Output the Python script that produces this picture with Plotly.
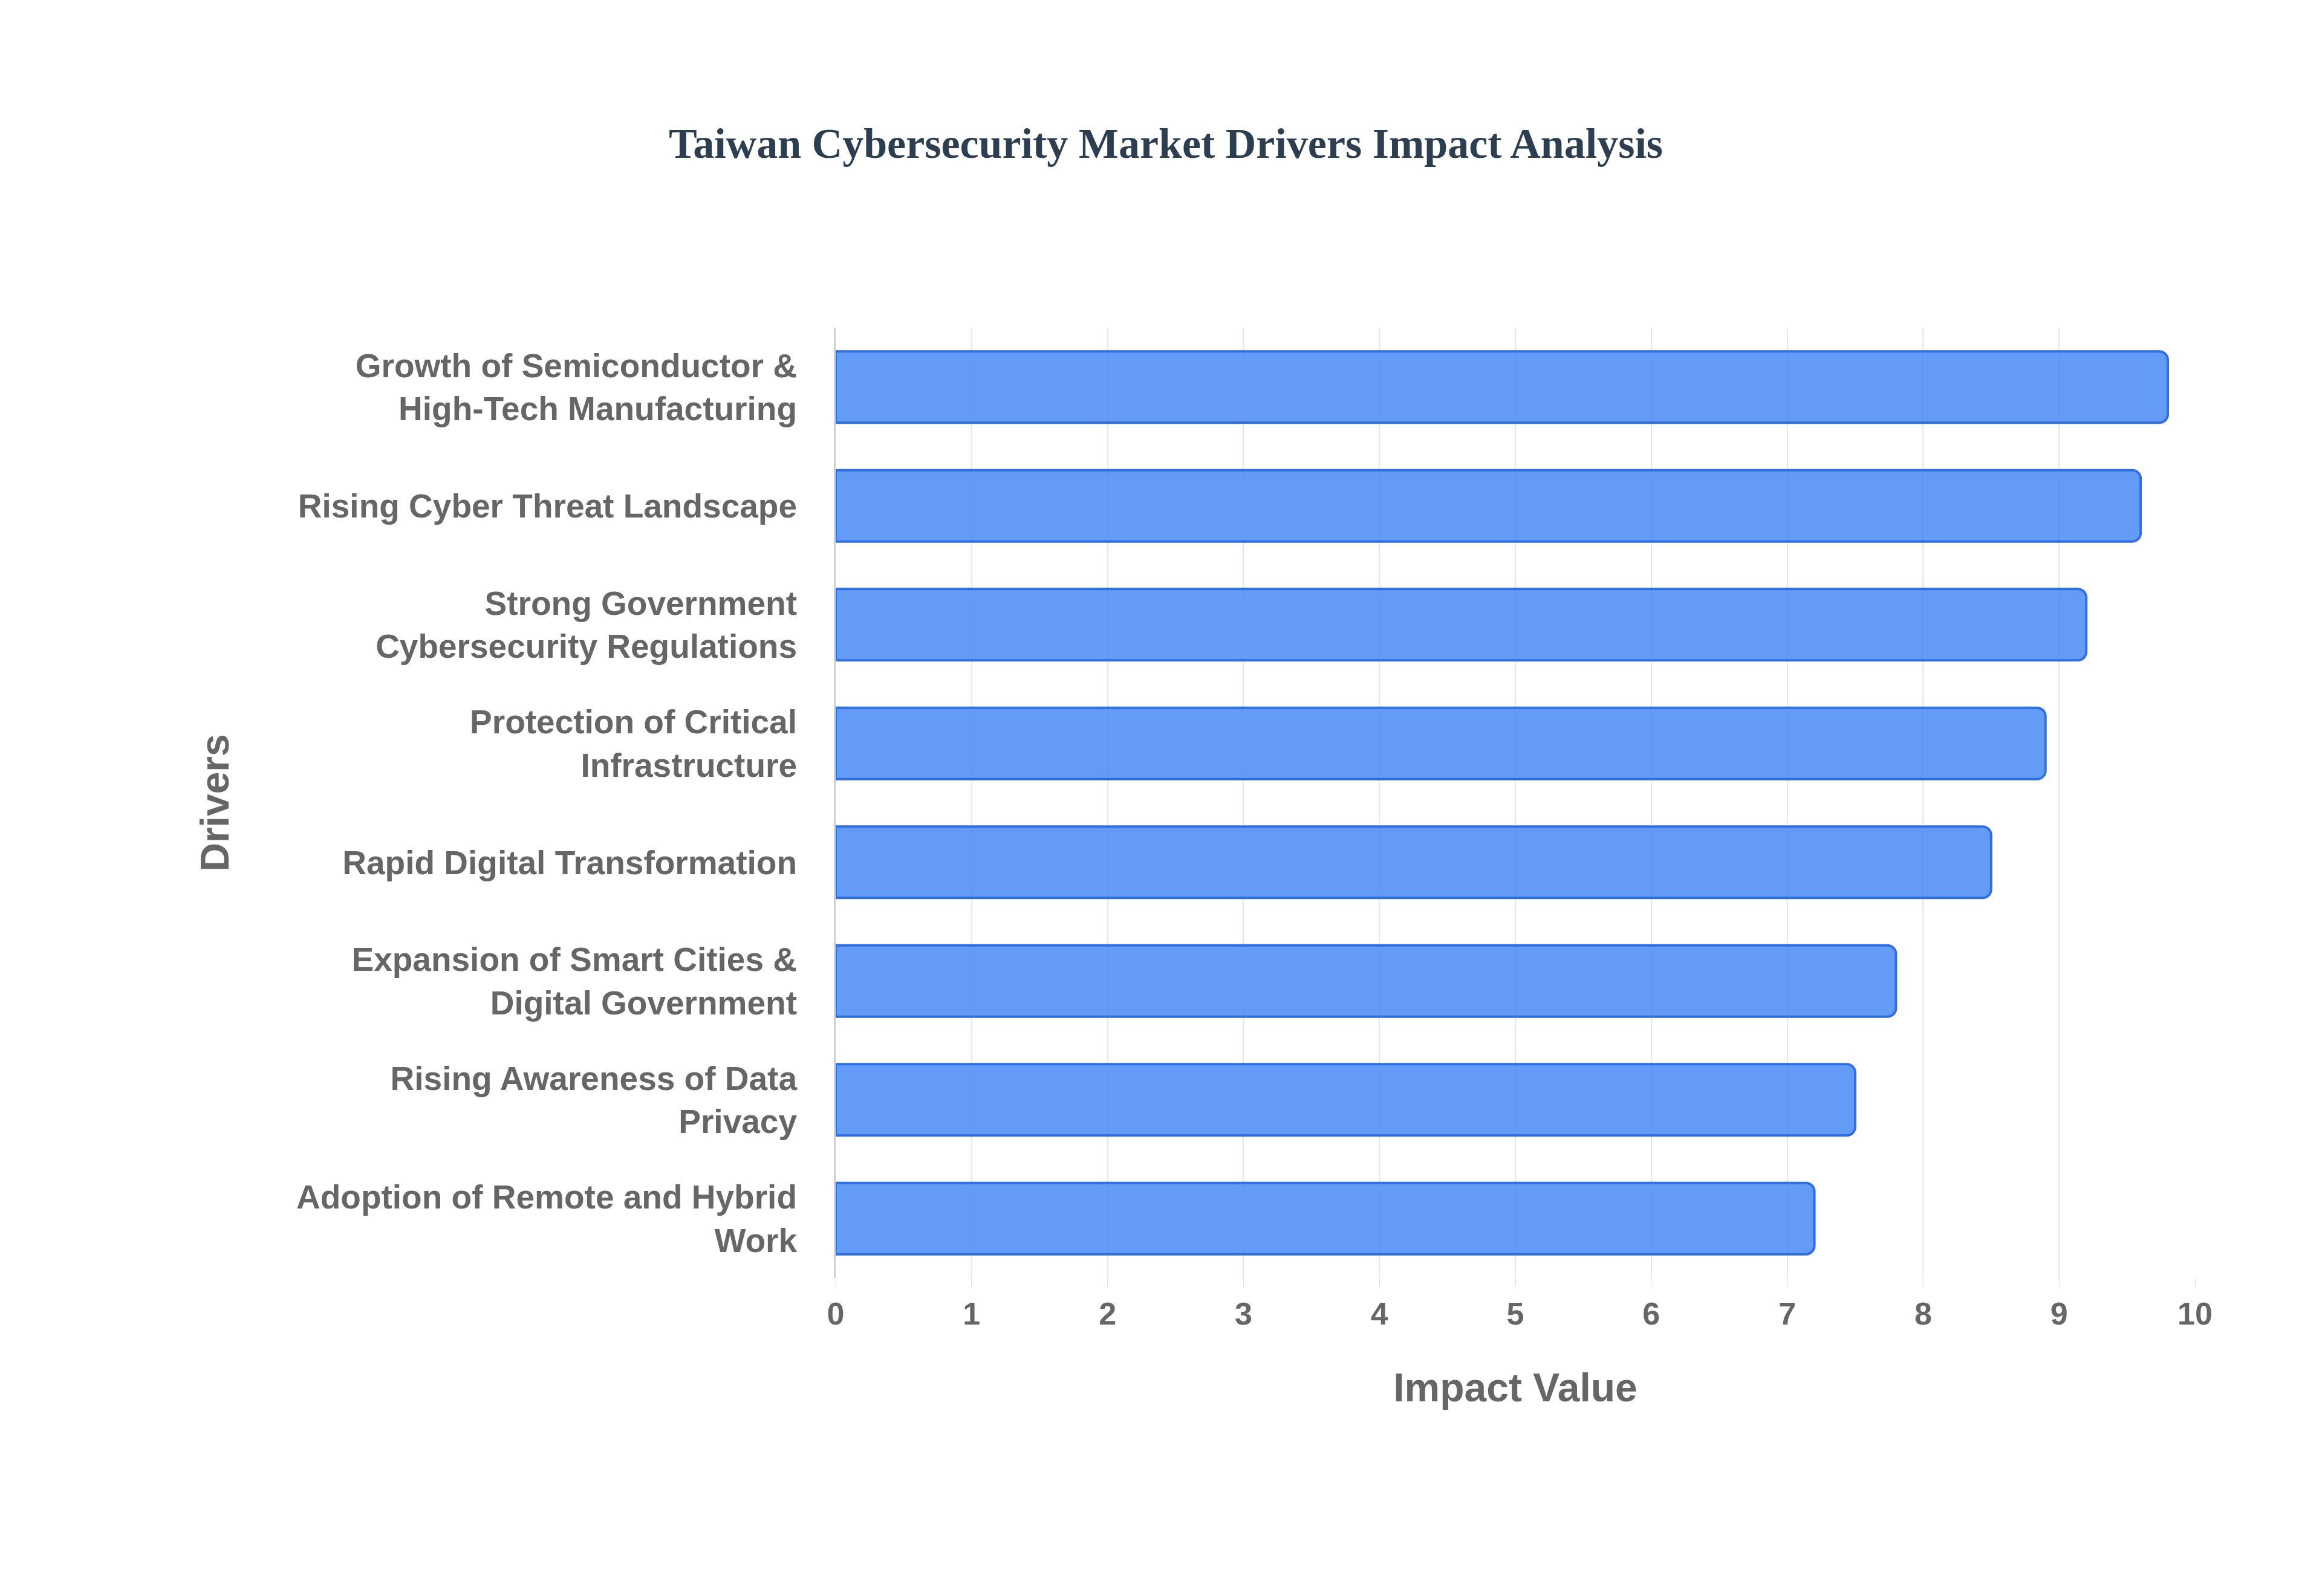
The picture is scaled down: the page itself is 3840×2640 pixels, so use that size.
import plotly.graph_objects as go

drivers = [
    "Growth of Semiconductor &<br>High-Tech Manufacturing",
    "Rising Cyber Threat Landscape",
    "Strong Government<br>Cybersecurity Regulations",
    "Protection of Critical<br>Infrastructure",
    "Rapid Digital Transformation",
    "Expansion of Smart Cities &<br>Digital Government",
    "Rising Awareness of Data<br>Privacy",
    "Adoption of Remote and Hybrid<br>Work",
]
impact = [9.8, 9.6, 9.2, 8.9, 8.5, 7.8, 7.5, 7.2]

fig = go.Figure(
    go.Bar(
        x=impact,
        y=drivers,
        orientation="h",
        marker=dict(
            color="rgba(66,133,244,0.82)",
            line=dict(color="#2f6fe0", width=4),
            cornerradius=14,
        ),
        hoverinfo="x+y",
    )
)

fig.update_layout(
    width=3840,
    height=2640,
    paper_bgcolor="white",
    plot_bgcolor="white",
    margin=dict(l=1374, r=218, t=534, b=534),
    bargap=0.4,
    showlegend=False,
    title=dict(
        text="<b>Taiwan Cybersecurity Market Drivers Impact Analysis</b>",
        x=0.5,
        xanchor="center",
        y=1 - 228 / 2640,
        yanchor="middle",
        font=dict(family="Liberation Serif", size=70, color="#2c3e50"),
    ),
    font=dict(family="Liberation Sans", color="#666666"),
)

fig.update_xaxes(
    range=[0, 10],
    dtick=1,
    showgrid=True,
    gridcolor="#e6e6e6",
    gridwidth=2,
    zeroline=False,
    tickfont=dict(size=52, weight="bold", color="#666666"),
    ticks="outside",
    ticklen=14,
    tickcolor="#dddddd",
    title=dict(text="Impact Value", font=dict(size=66, weight="bold", color="#666666"), standoff=70),
)
fig.update_yaxes(
    autorange="reversed",
    showline=True,
    linecolor="#d0d0d0",
    linewidth=3,
    showgrid=False,
    tickfont=dict(size=55, weight="bold", color="#666666"),
    ticks="",
    ticklabelstandoff=50,
    title=dict(text="Drivers", font=dict(size=66, weight="bold", color="#666666"), standoff=90),
)

fig.write_html("out.html")
